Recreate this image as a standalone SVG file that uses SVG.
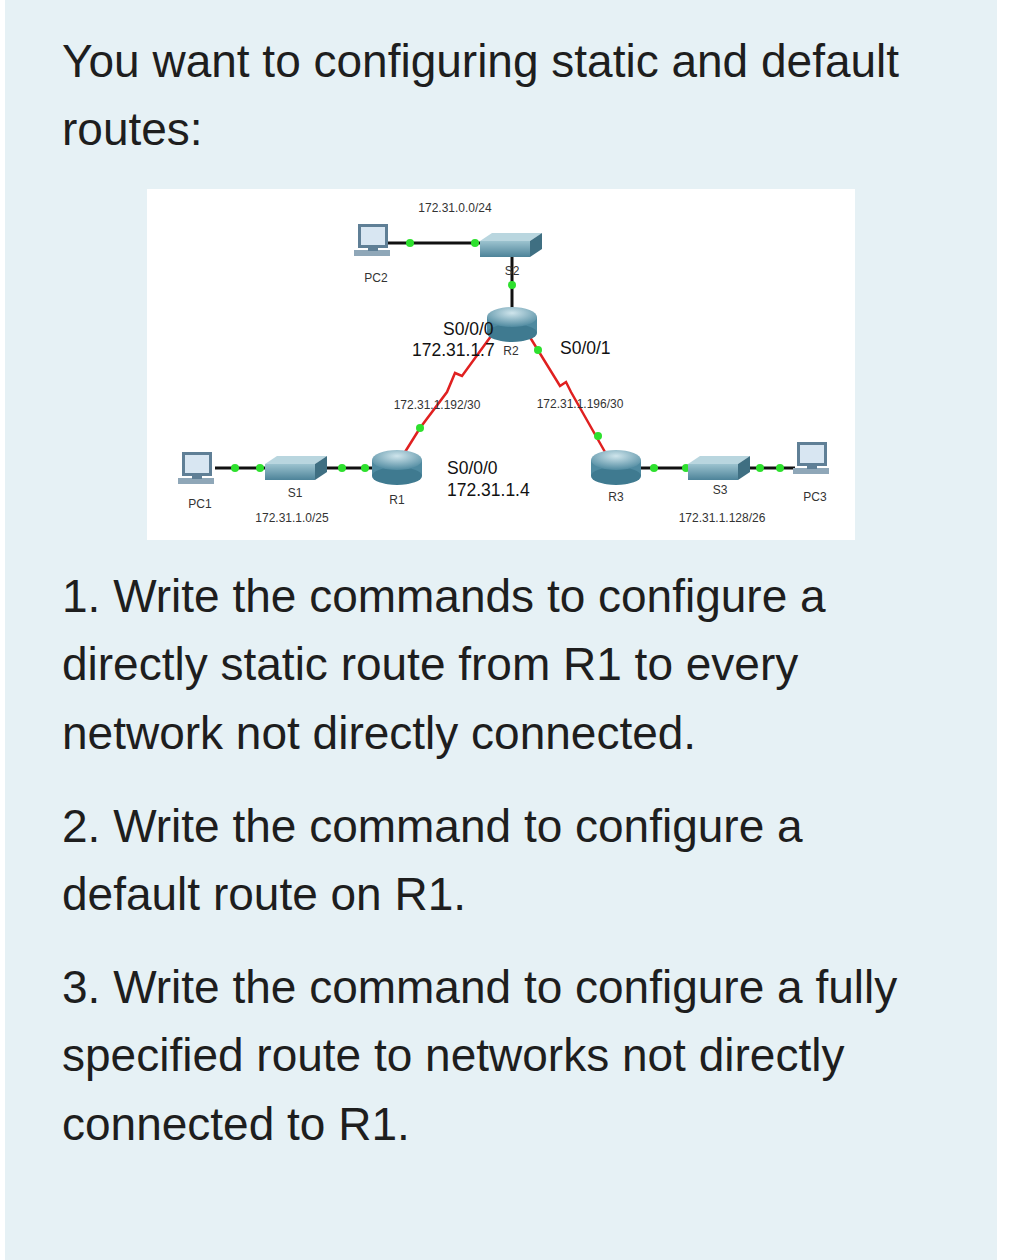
<svg xmlns="http://www.w3.org/2000/svg" width="1011" height="1260" viewBox="0 0 1011 1260">
<defs>
<style>
.t{font-family:"Liberation Sans",Arial,sans-serif;font-size:46px;fill:#1e1e1e}
.s{font-family:"Liberation Sans",Arial,sans-serif;font-size:12px;fill:#333}
.m{font-family:"Liberation Sans",Arial,sans-serif;font-size:17.5px;fill:#111}
.blk{stroke:#111;stroke-width:3;fill:none}
.red{stroke:#e02020;stroke-width:2.5;fill:none}
.dot{fill:#2ee02e}
</style>
<linearGradient id="sw" x1="0" y1="0" x2="0" y2="1"><stop offset="0" stop-color="#9cc3cf"/><stop offset="1" stop-color="#4d8399"/></linearGradient>
<radialGradient id="rt" cx="0.5" cy="0.3" r="0.7"><stop offset="0" stop-color="#cfe5ec"/><stop offset="1" stop-color="#4f8aa0"/></radialGradient>
<g id="pc"><rect x="0" y="0" width="30" height="24" fill="#5f7f96"/><rect x="3" y="3" width="24" height="18" fill="#d8e6f2"/><rect x="-4" y="26" width="36" height="6" fill="#8fa7b8"/><rect x="10" y="24" width="10" height="3" fill="#5f7f96"/></g>
<g id="switch"><polygon points="0,8 12,0 62,0 50,8" fill="#b9d6df"/><polygon points="0,8 50,8 50,24 0,24" fill="url(#sw)"/><polygon points="50,8 62,0 62,16 50,24" fill="#3f6f82"/></g>
<g id="router"><rect x="-25" y="-5" width="50" height="16" fill="#4f8aa0"/><ellipse cx="0" cy="11" rx="25" ry="9" fill="#3f7a90"/><ellipse cx="0" cy="-5" rx="25" ry="10" fill="url(#rt)"/></g>
</defs>
<rect width="1011" height="1260" fill="#ffffff"/>
<rect x="5" y="0" width="992" height="1260" fill="#e6f1f5"/>
<text class="t" x="62" y="77">You want to configuring static and default</text>
<text class="t" x="62" y="145">routes:</text>
<rect x="147" y="189" width="708" height="351" fill="#ffffff"/>
<g id="connectors">
<line class="blk" x1="385" y1="243" x2="482" y2="243"/>
<line class="blk" x1="512" y1="255" x2="512" y2="310"/>
<line class="blk" x1="215" y1="468" x2="380" y2="468"/>
<line class="blk" x1="630" y1="468" x2="795" y2="468"/>
<polyline class="red" points="494,332 462,376 455,373 447,392 420,428 405,452"/>
<polyline class="red" points="528,334 560,386 566,382 571,392 605,452"/>
<circle class="dot" cx="410" cy="243" r="4"/><circle class="dot" cx="475" cy="243" r="4"/>
<circle class="dot" cx="512" cy="285" r="4"/>
<circle class="dot" cx="538" cy="350" r="4"/>
<circle class="dot" cx="420" cy="428" r="4"/>
<circle class="dot" cx="598" cy="436" r="4"/>
<circle class="dot" cx="235" cy="468" r="4"/><circle class="dot" cx="260" cy="468" r="4"/>
<circle class="dot" cx="342" cy="468" r="4"/><circle class="dot" cx="365" cy="468" r="4"/>
<circle class="dot" cx="654" cy="468" r="4"/><circle class="dot" cx="686" cy="468" r="4"/>
<circle class="dot" cx="760" cy="468" r="4"/><circle class="dot" cx="780" cy="468" r="4"/>
</g>
<g id="PC2"><use href="#pc" x="358" y="224"/><text class="s" x="376" y="282" text-anchor="middle">PC2</text></g>
<g id="S2"><use href="#switch" x="480" y="233"/><text class="s" x="512" y="275" text-anchor="middle">S2</text></g>
<g id="R2"><use href="#router" x="512" y="322"/><text class="s" x="511" y="355" text-anchor="middle">R2</text></g>
<g id="PC1"><use href="#pc" x="182" y="452"/><text class="s" x="200" y="508" text-anchor="middle">PC1</text></g>
<g id="S1"><use href="#switch" x="265" y="456"/><text class="s" x="295" y="497" text-anchor="middle">S1</text></g>
<g id="R1"><use href="#router" x="397" y="465"/><text class="s" x="397" y="504" text-anchor="middle">R1</text></g>
<g id="R3"><use href="#router" x="616" y="465"/><text class="s" x="616" y="501" text-anchor="middle">R3</text></g>
<g id="S3"><use href="#switch" x="688" y="456"/><text class="s" x="720" y="494" text-anchor="middle">S3</text></g>
<g id="PC3"><use href="#pc" x="797" y="442"/><text class="s" x="815" y="501" text-anchor="middle">PC3</text></g>
<text class="s" x="455" y="212" text-anchor="middle">172.31.0.0/24</text>
<text class="m" x="443" y="335">S0/0/0</text>
<text class="m" x="412" y="356">172.31.1.7</text>
<text class="m" x="560" y="354">S0/0/1</text>
<text class="s" x="437" y="409" text-anchor="middle">172.31.1.192/30</text>
<text class="s" x="580" y="408" text-anchor="middle">172.31.1.196/30</text>
<text class="m" x="447" y="474">S0/0/0</text>
<text class="m" x="447" y="496">172.31.1.4</text>
<text class="s" x="292" y="522" text-anchor="middle">172.31.1.0/25</text>
<text class="s" x="722" y="522" text-anchor="middle">172.31.1.128/26</text>
<text class="t" x="62" y="612">1. Write the commands to configure a</text>
<text class="t" x="62" y="680">directly static route from R1 to every</text>
<text class="t" x="62" y="749">network not directly connected.</text>
<text class="t" x="62" y="842">2. Write the command to configure a</text>
<text class="t" x="62" y="910">default route on R1.</text>
<text class="t" x="62" y="1003">3. Write the command to configure a fully</text>
<text class="t" x="62" y="1071">specified route to networks not directly</text>
<text class="t" x="62" y="1140">connected to R1.</text>
</svg>
